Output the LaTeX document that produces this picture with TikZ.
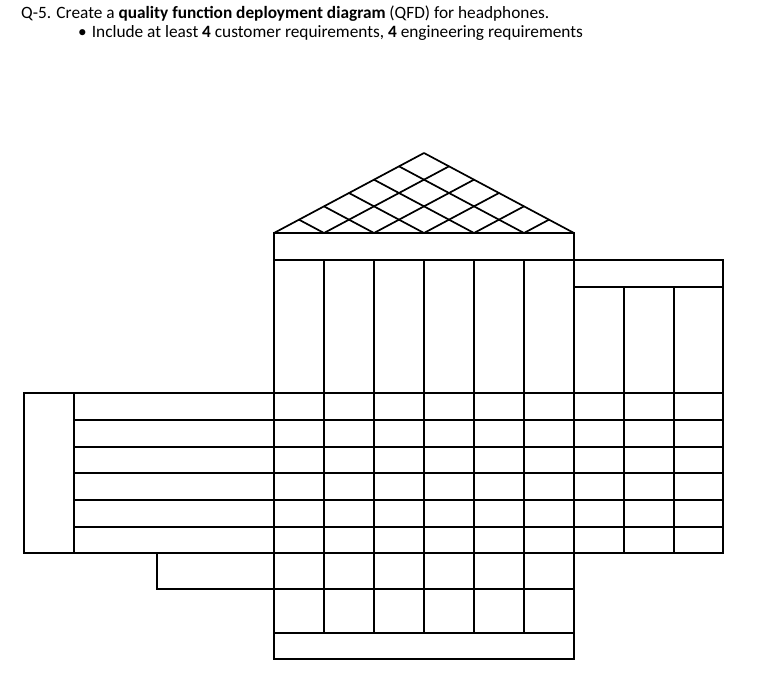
\documentclass[tikz,border=0pt]{standalone}
\usepackage{fontspec}
\setmainfont{Carlito}
\begin{document}
\begin{tikzpicture}[x=1pt,y=-1pt,
  vline/.style={line width=2.8pt},
  hline/.style={line width=1.8pt},
  roofline/.style={line width=1.7pt,line join=round,line cap=round},
  txt/.style={anchor=base west,inner sep=0pt,font=\fontsize{17.3}{20}\selectfont}]
\useasboundingbox (0,0) rectangle (780,686);
% texts
\node[txt] (title) at (21,18) {Q-5. Create a \textbf{quality function deployment diagram} (QFD) for headphones.};
\node[txt] (item) at (78,37.5) {•\hspace{5pt}Include at least \textbf{4} customer requirements, \textbf{4} engineering requirements};
% roof
\draw[roofline] (274,233) -- (424,153) -- (574,233);
\foreach \xi in {324,374,424,474,524}{
  \pgfmathsetmacro{\xr}{(574+\xi)/2}
  \pgfmathsetmacro{\yr}{233-0.266667*(574-\xi)}
  \pgfmathsetmacro{\xl}{(274+\xi)/2}
  \pgfmathsetmacro{\yl}{233-0.266667*(\xi-274)}
  \draw[roofline] (\xl,\yl) -- (\xi,233) -- (\xr,\yr);
}
% horizontal lines
\draw[hline] (274,233) -- (574,233);
\draw[hline] (274,260) -- (723,260);
\draw[hline] (574,287) -- (723,287);
\draw[hline] (24,393.3) -- (723,393.3);
\foreach \yy in {420,446.7,473.3,500,526.7}
  \draw[hline] (74,\yy) -- (723,\yy);
\draw[hline] (24,553.3) -- (723,553.3);
\draw[hline] (157,589) -- (574,589);
\draw[hline] (274,633.3) -- (574,633.3);
\draw[hline] (274,659) -- (574,659);
% vertical lines
\draw[vline] (274,232) -- (274,660);
\draw[vline] (574,232) -- (574,660);
\foreach \xx in {324,374,424,474,524}
  \draw[vline] (\xx,260) -- (\xx,633.3);
\foreach \xx in {624,674}
  \draw[vline] (\xx,287) -- (\xx,553.3);
\draw[vline] (723,259) -- (723,554.3);
\draw[vline] (24,392.3) -- (24,554.3);
\draw[vline] (74,393.3) -- (74,553.3);
\draw[vline] (157,553.3) -- (157,590);
\end{tikzpicture}
\end{document}
